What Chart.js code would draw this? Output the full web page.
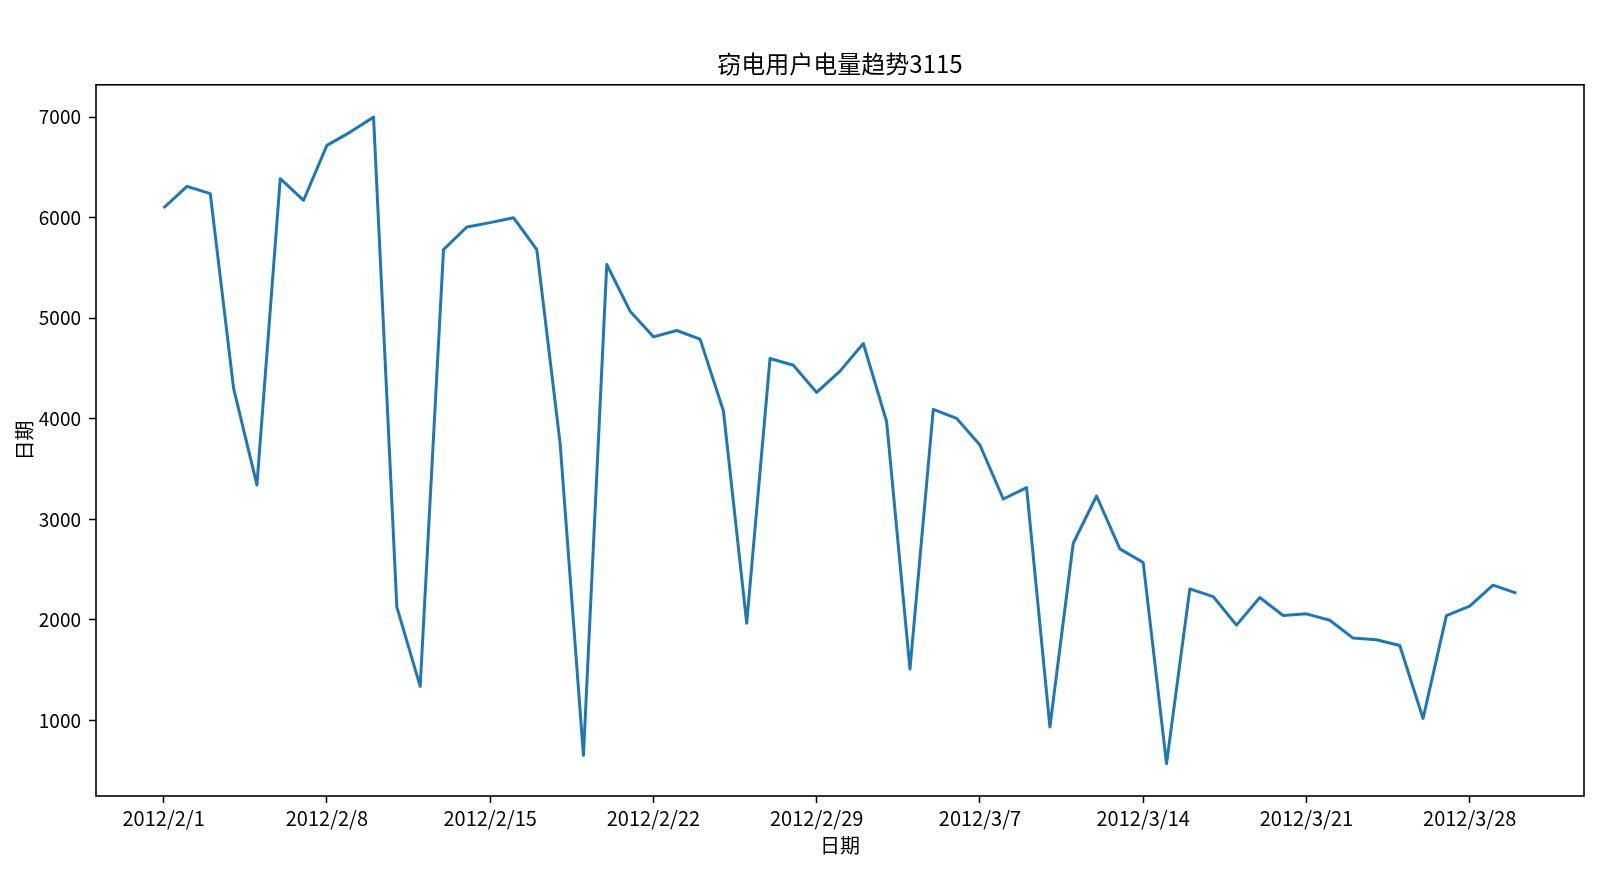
<!DOCTYPE html>
<html>
<head>
<meta charset="utf-8">
<script src="https://cdn.jsdelivr.net/npm/chart.js@4/dist/chart.umd.min.js"></script>
<style>
  body { margin: 0; background: #fff; }
  #wrap { width: 1603px; height: 879px; }
</style>
</head>
<body>
<div id="wrap"><canvas id="powerChart" width="1603" height="879"></canvas></div>
<script>
// daily dates, 2012/2/1 .. 2012/3/30
var dates = [
  '2012/2/1','2012/2/2','2012/2/3','2012/2/4','2012/2/5','2012/2/6','2012/2/7','2012/2/8','2012/2/9','2012/2/10',
  '2012/2/11','2012/2/12','2012/2/13','2012/2/14','2012/2/15','2012/2/16','2012/2/17','2012/2/18','2012/2/19','2012/2/20',
  '2012/2/21','2012/2/22','2012/2/23','2012/2/24','2012/2/25','2012/2/26','2012/2/27','2012/2/28','2012/2/29',
  '2012/3/1','2012/3/2','2012/3/3','2012/3/4','2012/3/5','2012/3/6','2012/3/7','2012/3/8','2012/3/9','2012/3/10',
  '2012/3/11','2012/3/12','2012/3/13','2012/3/14','2012/3/15','2012/3/16','2012/3/17','2012/3/18','2012/3/19','2012/3/20',
  '2012/3/21','2012/3/22','2012/3/23','2012/3/24','2012/3/25','2012/3/26','2012/3/27','2012/3/28','2012/3/29','2012/3/30'
];
// electricity usage per day
var usage = [
  6096, 6312, 6239, 4302, 3342, 6388, 6173, 6719, 6851, 7000,
  2127, 1338, 5683, 5907, 5951, 6000, 5683, 3756, 653, 5534,
  5070, 4815, 4878, 4792, 4080, 1967, 4600, 4533, 4262,
  4474, 4749, 3970, 1511, 4093, 4004, 3739, 3202, 3315, 935,
  2762, 3232, 2706, 2570, 570, 2308, 2232, 1948, 2222, 2043,
  2060, 1997, 1819, 1802, 1745, 1020, 2043, 2137, 2345, 2266
];
var xTickLabels = ['2012/2/1','2012/2/8','2012/2/15','2012/2/22','2012/2/29','2012/3/7','2012/3/14','2012/3/21','2012/3/28'];
var yTicks = [1000, 2000, 3000, 4000, 5000, 6000, 7000];
var chartTitle = '窃电用户电量趋势3115';
var xLabel = '日期';
var yLabel = '日期';

// matplotlib-like 5% margins
var xPad = (dates.length - 1) * 0.05;
var yMin = Math.min.apply(null, usage), yMax = Math.max.apply(null, usage);
var yPad = (yMax - yMin) * 0.05;

var points = usage.map(function (v, i) { return { x: i, y: v }; });

Chart.defaults.font.family = "'Noto Sans CJK SC', sans-serif";
Chart.defaults.color = '#000';

var frameBox = {
  id: 'frameBox',
  afterDraw: function (chart) {
    var a = chart.chartArea, ctx = chart.ctx;
    ctx.save();
    ctx.strokeStyle = '#000';
    ctx.lineWidth = 1.6;
    ctx.strokeRect(a.left, a.top, a.right - a.left, a.bottom - a.top);
    ctx.restore();
  }
};

new Chart(document.getElementById('powerChart'), {
  type: 'line',
  data: {
    datasets: [{
      data: points,
      borderColor: '#1f77b4',
      borderWidth: 3,
      borderJoinStyle: 'round',
      pointRadius: 0,
      tension: 0,
      fill: false
    }]
  },
  options: {
    responsive: false,
    animation: false,
    layout: { padding: { left: 0, right: 19, top: 0, bottom: 0 } },
    plugins: {
      legend: { display: false },
      tooltip: { enabled: false },
      title: {
        display: true,
        fullSize: false,
        text: chartTitle,
        font: { size: 24, weight: 'normal' },
        padding: { top: 49, bottom: 7 }
      }
    },
    scales: {
      x: {
        type: 'linear',
        min: -xPad,
        max: dates.length - 1 + xPad,
        afterBuildTicks: function (scale) {
          scale.ticks = xTickLabels.map(function (l) { return { value: dates.indexOf(l) }; });
        },
        afterFit: function (scale) { scale.height = 83; },
        ticks: {
          autoSkip: false,
          maxRotation: 0,
          padding: 3,
          font: { size: 20 },
          callback: function (v) { return dates[v]; }
        },
        grid: { drawOnChartArea: false, drawTicks: true, tickLength: 7, tickWidth: 1.5, tickColor: '#000' },
        border: { display: false },
        title: { display: true, text: xLabel, font: { size: 20 }, padding: { top: 0, bottom: 22 } }
      },
      y: {
        min: yMin - yPad,
        max: yMax + yPad,
        afterBuildTicks: function (scale) {
          scale.ticks = yTicks.map(function (v) { return { value: v }; });
        },
        afterFit: function (scale) { scale.width = 96; },
        ticks: {
          padding: 8,
          font: { size: 19 },
          callback: function (v) { return String(v); }
        },
        grid: { drawOnChartArea: false, drawTicks: true, tickLength: 7, tickWidth: 1.5, tickColor: '#000' },
        border: { display: false },
        title: { display: true, text: yLabel, font: { size: 20 }, padding: { top: 12, bottom: 0 } }
      }
    }
  },
  plugins: [frameBox]
});
</script>
</body>
</html>
